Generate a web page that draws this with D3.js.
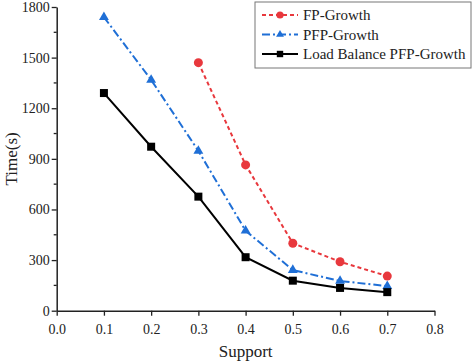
<!DOCTYPE html>
<html>
<head>
<meta charset="utf-8">
<script src="https://d3js.org/d3.v7.min.js"></script>
<style>
  body { margin: 0; background: #fff; }
  text { font-family: "Liberation Serif", "Times New Roman", serif; fill: #222; }
</style>
</head>
<body>
<div id="chart"></div>
<script>
// data
var support = [0.1, 0.2, 0.3, 0.4, 0.5, 0.6, 0.7];
var fpGrowth = [null, null, 1470, 864, 400, 290, 205];
var pfpGrowth = [1740, 1368, 947, 474, 241, 176, 146];
var lbPfpGrowth = [1290, 972, 676, 317, 178, 135, 110];
var xTicks = [0, 0.1, 0.2, 0.3, 0.4, 0.5, 0.6, 0.7, 0.8];
var yTicks = [0, 300, 600, 900, 1200, 1500, 1800];
var seriesNames = ["FP-Growth", "PFP-Growth", "Load Balance PFP-Growth"];

var width = 474, height = 363;
var margin = {left: 56.7, right: 39.5, top: 7, bottom: 52.3};

var svg = d3.select("#chart").append("svg")
  .attr("width", width).attr("height", height);

var x = d3.scaleLinear().domain([0, 0.8]).range([margin.left, width - margin.right]);
var y = d3.scaleLinear().domain([0, 1800]).range([height - margin.bottom, margin.top]);

// axes
var xAxis = svg.append("g")
  .attr("transform", "translate(0," + y(0) + ")")
  .call(d3.axisBottom(x).tickValues(xTicks).tickFormat(d3.format(".1f")).tickSize(5).tickSizeOuter(0));
var yAxis = svg.append("g")
  .attr("transform", "translate(" + x(0) + ",0)")
  .call(d3.axisLeft(y).tickValues(yTicks).tickFormat(d3.format("d")).tickSize(5).tickSizeOuter(0));
// minor y ticks
yAxis.selectAll(".minor").data(d3.range(150, 1800, 300)).enter().append("line")
  .attr("x1", 0).attr("x2", -3).attr("y1", d => y(d)).attr("y2", d => y(d))
  .attr("stroke", "#222").attr("stroke-width", 1.3);

[xAxis, yAxis].forEach(function (a) {
  a.attr("font-family", "Liberation Serif").attr("font-size", 14);
  a.select(".domain").attr("stroke", "#222").attr("stroke-width", 1.5);
  a.selectAll(".tick line").attr("stroke", "#222").attr("stroke-width", 1.3);
  a.selectAll(".tick text").attr("fill", "#222").style("font-family", "'Liberation Serif', serif");
});
xAxis.selectAll(".tick text").attr("dy", "1.1em");
yAxis.selectAll(".tick text").attr("x", -7);

svg.append("text").attr("x", x(0.4)).attr("y", 357)
  .attr("text-anchor", "middle").style("font-size", "17px").text("Support");
svg.append("text").attr("transform", "translate(17," + y(900) + ") rotate(-90)")
  .attr("text-anchor", "middle").style("font-size", "17px").text("Time(s)");

var series = [
  {name: seriesNames[0], values: fpGrowth, color: "#e8383d", dash: "4,3", marker: "circle"},
  {name: seriesNames[1], values: pfpGrowth, color: "#1f6fd6", dash: "8,3,2,3", marker: "triangle"},
  {name: seriesNames[2], values: lbPfpGrowth, color: "#000000", dash: null, marker: "square"}
];

var line = d3.line()
  .defined(d => d[1] != null)
  .x(d => x(d[0])).y(d => y(d[1]));

function drawMarker(g, type, color, k) {
  k = k || 1;
  if (type === "circle") g.append("circle").attr("r", 4.5 * k).attr("fill", color);
  else if (type === "triangle") g.append("path").attr("d", d3.symbol(d3.symbolTriangle, 42 * k * k)()).attr("fill", color);
  else g.append("rect").attr("x", -4 * k).attr("y", -4 * k).attr("width", 8 * k).attr("height", 8 * k).attr("fill", color);
}

series.forEach(function (s) {
  var pts = support.map((v, i) => [v, s.values[i]]);
  svg.append("path").datum(pts).attr("d", line)
    .attr("fill", "none").attr("stroke", s.color).attr("stroke-width", 2)
    .attr("stroke-dasharray", s.dash);
  pts.filter(p => p[1] != null).forEach(function (p) {
    var g = svg.append("g").attr("transform", "translate(" + x(p[0]) + "," + y(p[1]) + ")");
    drawMarker(g, s.marker, s.color);
  });
});

// legend
var legend = svg.append("g").attr("transform", "translate(255,2)");
legend.append("rect").attr("x", 0).attr("y", 0).attr("width", 216).attr("height", 66)
  .attr("fill", "#fff").attr("stroke", "#777").attr("stroke-width", 1);
series.forEach(function (s, i) {
  var ly = 13 + i * 19.5;
  legend.append("line").attr("x1", 7).attr("x2", 43).attr("y1", ly).attr("y2", ly)
    .attr("stroke", s.color).attr("stroke-width", 2).attr("stroke-dasharray", s.dash);
  var g = legend.append("g").attr("transform", "translate(25," + ly + ")");
  drawMarker(g, s.marker, s.color, 0.8);
  legend.append("text").attr("x", 48).attr("y", ly + 5).style("font-size", "15px").text(s.name);
});
</script>
</body>
</html>
